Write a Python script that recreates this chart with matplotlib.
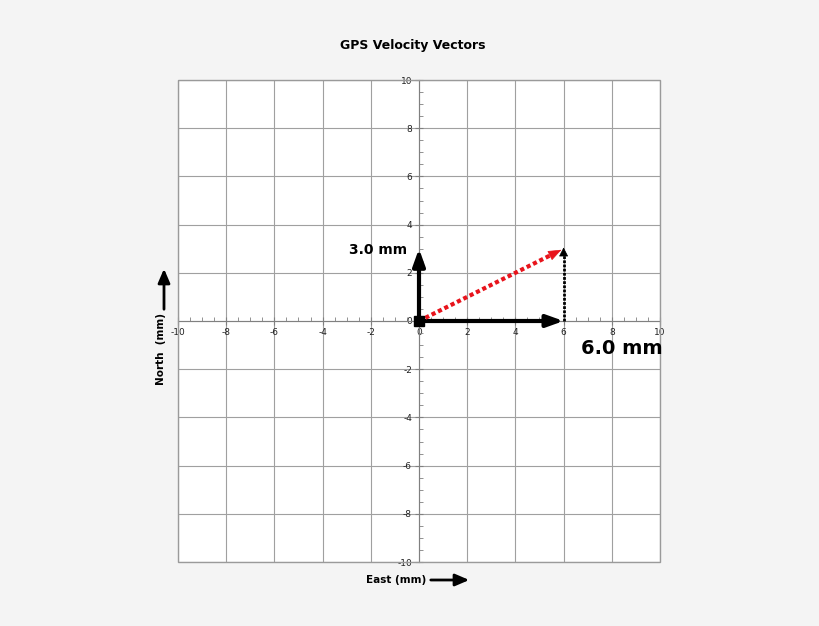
import matplotlib
matplotlib.use("Agg")
import matplotlib.pyplot as plt
import numpy as np

title = "GPS Velocity Vectors"
x_label = "East (mm)"
y_label = "North  (mm)"
east = 6.0
north = 3.0
east_label = "6.0 mm"
north_label = "3.0 mm"
ticks = [-10, -8, -6, -4, -2, 0, 2, 4, 6, 8, 10]
minor_ticks = np.arange(-10, 10.01, 0.5)

fig = plt.figure(figsize=(8.2, 6.26), dpi=100)
fig.patch.set_facecolor("#f4f4f4")
ax = fig.add_axes([178/820, 1-562/626, (660-178)/820, (562-80)/626])
ax.set_facecolor("white")
ax.set_xlim(-10, 10)
ax.set_ylim(-10, 10)

ax.set_xticks(ticks)
ax.set_yticks(ticks)
ax.set_xticks(minor_ticks, minor=True)
ax.set_yticks(minor_ticks, minor=True)
ax.grid(True, which="major", color="#a0a0a0", lw=0.8)
ax.set_axisbelow(True)

for s in ["top", "right"]:
    ax.spines[s].set_visible(False)
ax.spines["left"].set_position("zero")
ax.spines["bottom"].set_position("zero")
ax.spines["left"].set_color("#808080")
ax.spines["bottom"].set_color("#808080")
ax.add_patch(plt.Rectangle((0, 0), 1, 1, transform=ax.transAxes, fill=False,
                           edgecolor="#9a9a9a", lw=1.0, clip_on=False, zorder=3))

ax.tick_params(which="major", direction="inout", length=6, color="#808080",
               labelsize=6.5, pad=2, labelcolor="#222222")
ax.tick_params(which="minor", direction="in", length=3, color="#808080")
ax.set_xticklabels([str(t) for t in ticks])
ax.set_yticklabels([str(t) for t in ticks])

head = "-|>,head_length=1.0,head_width=0.36"
ax.annotate("", xy=(east, 0), xytext=(0, 0),
            arrowprops=dict(arrowstyle=head, color="black", lw=3,
                            shrinkA=0, shrinkB=0, mutation_scale=10), zorder=5)
ax.annotate("", xy=(0, north), xytext=(0, 0),
            arrowprops=dict(arrowstyle=head, color="black", lw=3,
                            shrinkA=0, shrinkB=0, mutation_scale=10), zorder=5)
ax.plot([east, east], [0, north - 0.15], ls=(0, (1, 0.5)), color="black", lw=2, zorder=4)
ax.annotate("", xy=(east, north + 0.05), xytext=(east, north - 0.2),
            arrowprops=dict(arrowstyle="-|>,head_length=0.7,head_width=0.36", color="black",
                            lw=0.5, shrinkA=0, shrinkB=0, mutation_scale=8), zorder=5)
ax.plot([0, east * 0.94], [0, north * 0.94], ls=(0, (1, 0.7)), color="#e8141c", lw=3, zorder=6)
ax.annotate("", xy=(east * 0.985, north * 0.985), xytext=(east * 0.9, north * 0.9),
            arrowprops=dict(arrowstyle="-|>,head_length=0.85,head_width=0.33", color="#e8141c",
                            lw=0.5, shrinkA=0, shrinkB=0, mutation_scale=10), zorder=6)
ax.plot([0], [0], marker="s", color="black", markersize=7, zorder=7, clip_on=False)

ax.text(-1.7, north * 0.95 + 0.1, north_label, fontsize=10, fontweight="bold",
        ha="center", va="center")
ax.text(8.4, -1.15, east_label, fontsize=14, fontweight="bold", ha="center", va="center")

fig.text(413/820, 1-46/626, title, fontsize=9, fontweight="bold", ha="center", va="center")
fig.text(396/820, 1-580/626, x_label, fontsize=7.5, fontweight="bold", ha="center", va="center")
fig.text(161/820, 1-349/626, y_label, fontsize=7.5, fontweight="bold", ha="center", va="center",
         rotation=90)
fig.add_artist(matplotlib.patches.FancyArrowPatch((428/820, 1-580/626), (472/820, 1-580/626),
               transform=fig.transFigure, arrowstyle="-|>,head_length=0.7,head_width=0.3",
               color="black", lw=2, mutation_scale=12))
fig.add_artist(matplotlib.patches.FancyArrowPatch((164/820, 1-312/626), (164/820, 1-266/626),
               transform=fig.transFigure, arrowstyle="-|>,head_length=0.7,head_width=0.3",
               color="black", lw=2, mutation_scale=12))

fig.savefig("out.png", dpi=100, facecolor=fig.get_facecolor())
